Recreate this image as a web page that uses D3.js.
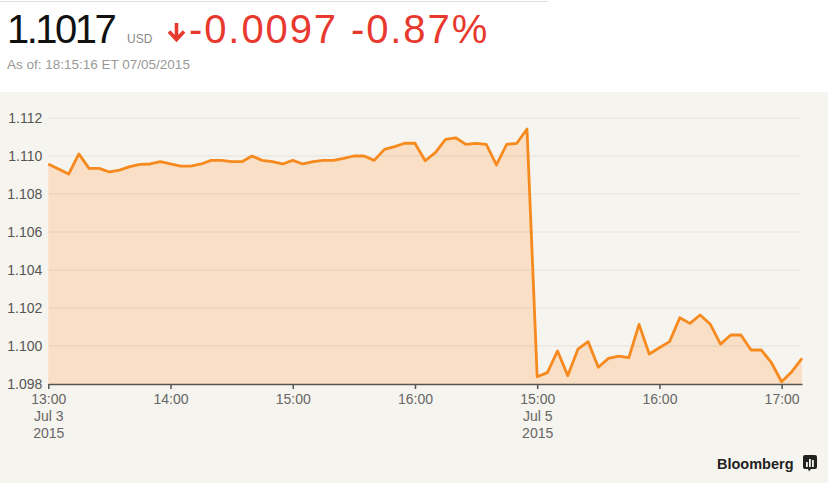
<!DOCTYPE html>
<html>
<head>
<meta charset="utf-8">
<script src="https://cdn.jsdelivr.net/npm/d3@7"></script>
<style>
  body { margin: 0; background: #fff; }
  svg { display: block; font-family: "Liberation Sans", Arial, sans-serif; }
</style>
</head>
<body>
<svg id="chart" width="830" height="483"></svg>
<script>
// quote header
const lastPrice = '1.1017';
const currency = 'USD';
const change = '-0.0097';
const changePct = '-0.87%';
const asOf = 'As of: 18:15:16 ET 07/05/2015';

// two trading sessions, 5 minute bars
const sessionStarts = ['2015-07-03T13:00', '2015-07-05T15:00'];
const sessionLengths = [240, 130]; // minutes shown on the axis per session
const stepMinutes = 5;

const jul3Values = [
  1.10958, 1.10932, 1.10905, 1.11011, 1.10935, 1.10935, 1.10916, 1.10926,
  1.10944, 1.10956, 1.10958, 1.10970, 1.10958, 1.10947, 1.10947, 1.10958,
  1.10977, 1.10977, 1.10970, 1.10970, 1.11000, 1.10977, 1.10970, 1.10958,
  1.10977, 1.10958, 1.10970, 1.10977, 1.10977, 1.10987, 1.11000, 1.11000,
  1.10977, 1.11035, 1.11049, 1.11067, 1.11067, 1.10975, 1.11018, 1.11088,
  1.11096, 1.11061, 1.11067, 1.11061, 1.10953, 1.11061, 1.11067, 1.11142
];
const jul5Values = [
  1.09838, 1.09860, 1.09974, 1.09844, 1.09983, 1.10023, 1.09888, 1.09935,
  1.09947, 1.09939, 1.10114, 1.09958, 1.09991, 1.10023, 1.10149, 1.10119,
  1.10163, 1.10114, 1.10010, 1.10058, 1.10058, 1.09979, 1.09979, 1.09912,
  1.09812, 1.09865, 1.09935
];

const yTicks = [1.098, 1.100, 1.102, 1.104, 1.106, 1.108, 1.110, 1.112];
const xTicks = [
  { t: '2015-07-03T13:00', label: ['13:00', 'Jul 3', '2015'] },
  { t: '2015-07-03T14:00', label: ['14:00'] },
  { t: '2015-07-03T15:00', label: ['15:00'] },
  { t: '2015-07-03T16:00', label: ['16:00'] },
  { t: '2015-07-05T15:00', label: ['15:00', 'Jul 5', '2015'] },
  { t: '2015-07-05T16:00', label: ['16:00'] },
  { t: '2015-07-05T17:00', label: ['17:00'] }
];

const parse = d3.timeParse('%Y-%m-%dT%H:%M');
const starts = sessionStarts.map(parse);

// position of a date on the gap-less trading axis, in minutes
function axisMinutes(date) {
  let offset = 0;
  for (let i = 0; i < starts.length; i++) {
    const m = (date - starts[i]) / 60000;
    if (m >= 0 && m <= sessionLengths[i]) return offset + m;
    offset += sessionLengths[i];
  }
  return offset;
}

const series = [];
[jul3Values, jul5Values].forEach((vals, s) => {
  vals.forEach((v, i) => {
    series.push({ date: d3.timeMinute.offset(starts[s], i * stepMinutes), value: v });
  });
});

const svg = d3.select('#chart');
const width = +svg.attr('width');
const height = +svg.attr('height');

const plot = { left: 48.3, right: 802, top: 118, bottom: 384 };

const x = d3.scaleLinear()
  .domain([0, d3.sum(sessionLengths)])
  .range([plot.left, plot.right]);
const y = d3.scaleLinear()
  .domain([1.098, 1.112])
  .range([plot.bottom, plot.top]);

// header
svg.append('line')
  .attr('x1', 0).attr('x2', 548).attr('y1', 1.5).attr('y2', 1.5)
  .attr('stroke', '#ddd').attr('stroke-width', 1);

svg.append('text')
  .attr('x', 7).attr('y', 43)
  .attr('font-size', 40).attr('fill', '#111')
  .attr('letter-spacing', -2.5)
  .text(lastPrice);

svg.append('text')
  .attr('x', 127).attr('y', 43)
  .attr('font-size', 12).attr('fill', '#888')
  .text(currency);

svg.append('path')
  .attr('d', 'M176.5,23 V38 M169,31.5 L176.5,39.5 L184,31.5')
  .attr('fill', 'none')
  .attr('stroke', '#e8392f')
  .attr('stroke-width', 3.6);

svg.append('text')
  .attr('x', 189).attr('y', 43)
  .attr('font-size', 40).attr('fill', '#e8392f')
  .attr('letter-spacing', 1.9)
  .text(`${change} ${changePct}`);

svg.append('text')
  .attr('x', 7).attr('y', 69)
  .attr('font-size', 13.5).attr('fill', '#999')
  .text(asOf);

// chart panel
svg.append('rect')
  .attr('x', 0).attr('y', 92)
  .attr('width', 828).attr('height', height - 92)
  .attr('fill', '#f6f4ee');

const area = d3.area()
  .x(d => x(axisMinutes(d.date)))
  .y0(plot.bottom)
  .y1(d => y(d.value));

const line = d3.line()
  .x(d => x(axisMinutes(d.date)))
  .y(d => y(d.value));

svg.append('path')
  .datum(series)
  .attr('d', area)
  .attr('fill', '#f8dfc5');

svg.append('g')
  .selectAll('line')
  .data(yTicks.slice(1))
  .join('line')
  .attr('x1', plot.left).attr('x2', 800)
  .attr('y1', d => y(d)).attr('y2', d => y(d))
  .attr('stroke', 'rgba(0,0,0,0.075)')
  .attr('stroke-width', 1);

svg.append('path')
  .datum(series)
  .attr('d', line)
  .attr('fill', 'none')
  .attr('stroke', '#f68a1e')
  .attr('stroke-width', 2.8)
  .attr('stroke-linejoin', 'round');

// y axis labels
const yAxis = svg.append('g')
  .attr('transform', `translate(${plot.left},0)`)
  .call(d3.axisLeft(y).tickValues(yTicks).tickFormat(d3.format('.3f')).tickSize(0).tickPadding(6));
yAxis.select('.domain').remove();
yAxis.selectAll('text')
  .attr('font-family', '"Liberation Sans", Arial, sans-serif')
  .attr('font-size', 14)
  .attr('fill', '#555');

// x axis
const tickPos = xTicks.map(d => axisMinutes(parse(d.t)));
const xAxis = svg.append('g')
  .attr('transform', `translate(0,${plot.bottom})`)
  .call(d3.axisBottom(x).tickValues(tickPos).tickSize(5).tickSizeOuter(0).tickFormat(''));
xAxis.select('.domain').attr('stroke', '#555').attr('stroke-width', 1.5);
xAxis.selectAll('.tick line').attr('stroke', '#555').attr('stroke-width', 1.5);
xAxis.selectAll('.tick').each(function(_, i) {
  const t = d3.select(this).append('text')
    .attr('text-anchor', 'middle')
    .attr('font-family', '"Liberation Sans", Arial, sans-serif')
    .attr('font-size', 14)
    .attr('fill', '#666');
  xTicks[i].label.forEach((s, k) => {
    t.append('tspan').attr('x', 0).attr('y', 20 + k * 17).text(s);
  });
});

// logo
svg.append('text')
  .attr('x', 717).attr('y', 469)
  .attr('font-size', 14.5).attr('font-weight', 'bold').attr('fill', '#222')
  .text('Bloomberg');

const logo = svg.append('g').attr('transform', 'translate(803,455)');
logo.append('path')
  .attr('d', 'M2,0 H12 Q14,0 14,2 V12 Q14,14 12,14 H8 L6,16.5 L5,14 H2 Q0,14 0,12 V2 Q0,0 2,0 Z')
  .attr('fill', '#222');
logo.selectAll('rect')
  .data([[3, 7, 5], [6, 4, 8], [9, 5, 7]])
  .join('rect')
  .attr('x', d => d[0]).attr('y', d => d[1])
  .attr('width', 1.8).attr('height', d => d[2])
  .attr('fill', '#f6f4ee');
</script>
</body>
</html>
